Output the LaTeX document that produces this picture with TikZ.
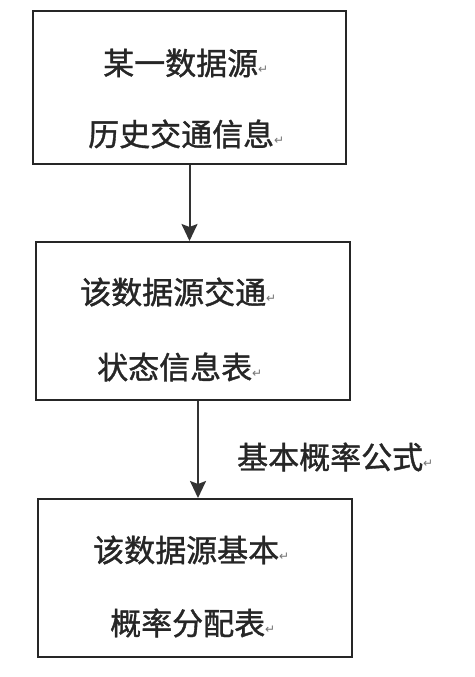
\documentclass[tikz,border=0pt]{standalone}
\usepackage{fontspec}
\setmainfont{Noto Sans CJK SC}[FakeBold=1.2]
\newfontfamily\symf{DejaVu Sans}
\usetikzlibrary{arrows.meta}
\newcommand{\rmark}{{\symf\fontsize{12}{12}\selectfont\color{black!55}\raisebox{1pt}{↵}}}
\tikzset{
  box/.style={draw=black!85, line width=2pt, inner sep=0pt},
  txt/.style={anchor=west, inner sep=0pt, font=\fontsize{31}{31}\selectfont, text=black!85},
  arr/.style={draw=black!80, line width=2pt, -{Stealth[length=17pt,width=16pt,inset=3pt]}}
}
\begin{document}
\begin{tikzpicture}[x=1pt,y=-1pt]
\useasboundingbox[fill=white] (0,0) rectangle (474,677);
\node[box, minimum width=313pt, minimum height=153pt] (b1) at (189.5,87.5) {};
\node[box, minimum width=314pt, minimum height=158pt] (b2) at (193,321) {};
\node[box, minimum width=314pt, minimum height=158pt] (b3) at (195,578) {};
\node[txt] (t1a) at (103,63) {某一数据源\rmark};
\node[txt] (t1b) at (88,134) {历史交通信息\rmark};
\node[txt] (t2a) at (80,292) {该数据源交通\rmark};
\node[txt] (t2b) at (97,367) {状态信息表\rmark};
\node[txt] (lab) at (237,457) {基本概率公式\rmark};
\node[txt] (t3a) at (93,550) {该数据源基本\rmark};
\node[txt] (t3b) at (110,623) {概率分配表\rmark};
\draw[arr] (b1.south) -- (b1.south |- b2.north);
\draw[arr] ([xshift=5pt]b2.south) -- ([xshift=5pt]b2.south |- b3.north);
\end{tikzpicture}
\end{document}
